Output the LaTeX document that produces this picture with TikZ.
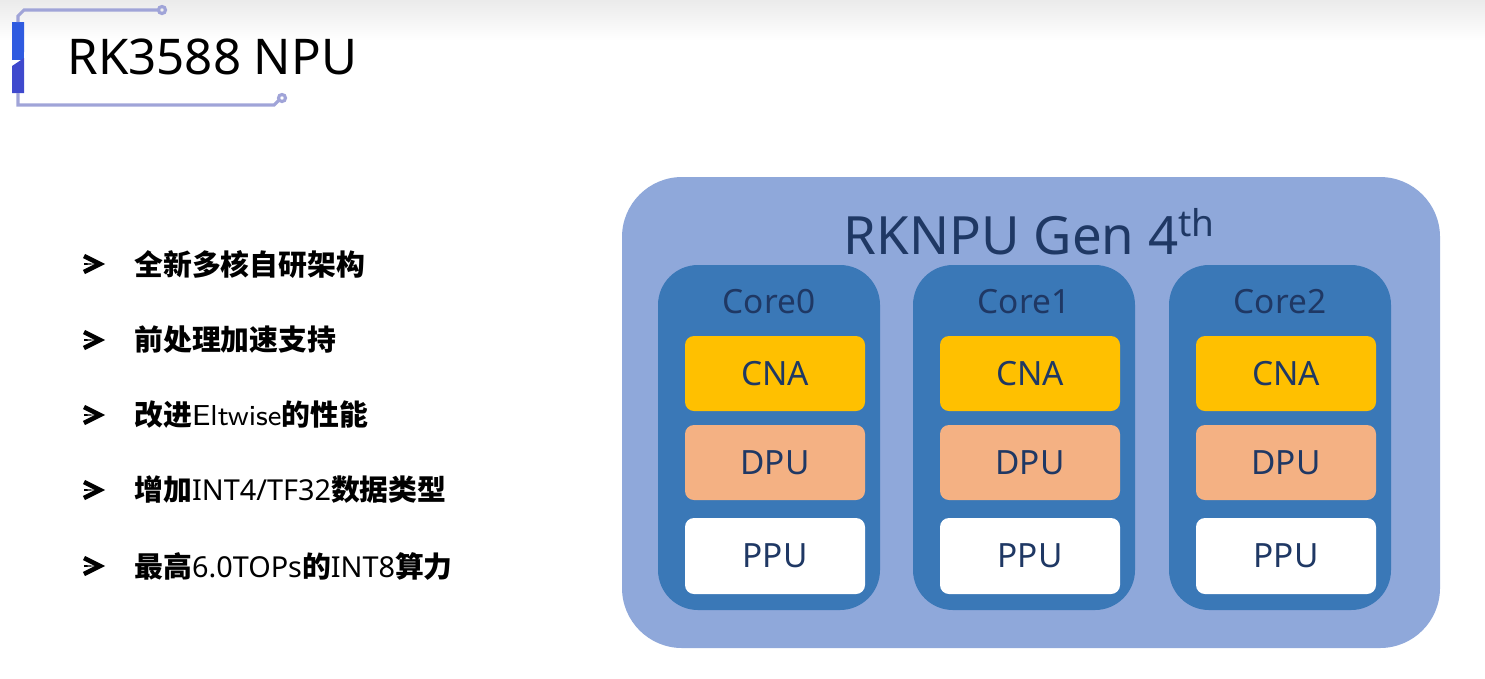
\documentclass[tikz,border=0pt]{standalone}
\usepackage{fontspec}
\setmainfont{Noto Sans}
\newfontfamily\cjk{Noto Sans CJK SC}
\begin{document}
\begin{tikzpicture}[x=0.01cm,y=-0.01cm,
  core/.style={fill=coreblue,rounded corners=40*0.01cm},
  unit/.style={rounded corners=9*0.01cm},
  lab/.style={font=\fontsize{9.5}{11}\selectfont,text=navy},
  bul/.style={anchor=west,font=\fontsize{8.2}{10}\selectfont\cjk\bfseries},
  deco/.style={draw=decol,line width=0.9pt}]
\definecolor{outerblue}{HTML}{8FA8DA}
\definecolor{coreblue}{HTML}{3A78B7}
\definecolor{navy}{HTML}{1F3864}
\definecolor{cna}{HTML}{FFC000}
\definecolor{dpu}{HTML}{F4B183}
\definecolor{decol}{HTML}{A0A4D8}
\definecolor{barblue}{HTML}{2F5BE0}
\useasboundingbox (0,0) rectangle (1485,678);
\fill[top color=black!8,bottom color=white] (0,0) rectangle (1485,40);
% title decoration
\fill[barblue] (12,22) rectangle (24,60) -- cycle;
\fill[barblue] (12,22) -- (24,22) -- (24,52) -- (12,60) -- cycle;
\fill[barblue!80!violet] (12,66) -- (24,58) -- (24,93) -- (12,93) -- cycle;
\draw[deco] (18,22) -- (18,16) -- (24,10) -- (158,10);
\draw[deco] (162,10) circle (3.5);
\draw[deco] (18,93) -- (18,105) -- (274,105) -- (280,99);
\draw[deco] (282,98) circle (3.5);
\node[anchor=west,font=\fontsize{14}{16}\selectfont] (title) at (55,57) {RK3588 NPU};
% bullets
\foreach \y/\t [count=\i] in {264/{全新多核自研架构},340/{前处理加速支持},415/{改进{\normalfont\sffamily\mdseries Eltwise}的性能},490/{增加{\mdseries\fontspec{Noto Sans}INT4/TF32}数据类型},566/{最高{\mdseries\fontspec{Noto Sans}6.0TOPs}的{\mdseries\fontspec{Noto Sans}INT8}算力}}{
  \draw[line width=1.3pt,line join=miter] (84,\y-8) -- (100,\y) -- (84,\y+8);
  \fill (84,\y-1) -- (98,\y) -- (84,\y+1) -- cycle;
  \node[bul] (b\i) at (122,\y) {\t};
}
% outer
\fill[outerblue,rounded corners=60*0.01cm] (622,177) rectangle (1440,648);
\node[font=\fontsize{15}{17}\selectfont,text=navy] (gen) at (1030,232) {RKNPU Gen 4\textsuperscript{th}};
\foreach \x/\n in {658/0,913/1,1169/2}{
  \fill[core] (\x,265) rectangle (\x+222,610);
  \node[lab] (c\n) at (\x+111,302) {Core\n};
  \fill[unit,cna] (\x+27,336) rectangle (\x+207,411);
  \node[lab] (cna\n) at (\x+117,374) {CNA};
  \fill[unit,dpu] (\x+27,425) rectangle (\x+207,500);
  \node[lab] (dpu\n) at (\x+117,463) {DPU};
  \fill[unit,white] (\x+27,518) rectangle (\x+207,594);
  \node[lab] (ppu\n) at (\x+117,556) {PPU};
}
\end{tikzpicture}
\end{document}
